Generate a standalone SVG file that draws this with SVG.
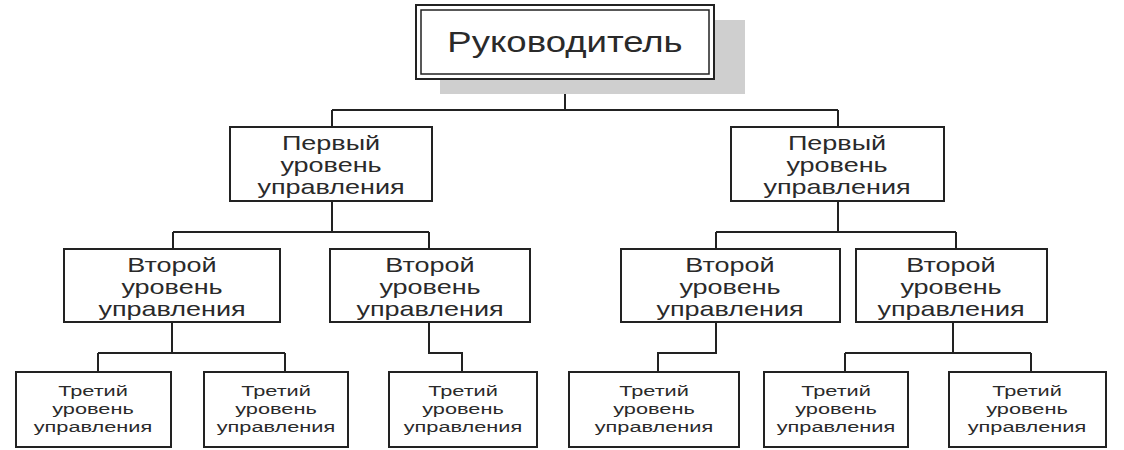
<svg xmlns="http://www.w3.org/2000/svg" width="1124" height="450" viewBox="0 0 1124 450">
<style>
.b{fill:#fff;stroke:#222;stroke-width:2}
.t{font-family:"Liberation Sans",Arial,sans-serif;fill:#2a2a2a;text-anchor:middle}
.m{font-size:20px}
.s{font-size:15px}
#connectors path{fill:none;stroke:#222;stroke-width:2}
</style>
<rect width="1124" height="450" fill="#fff"/>
<g id="connectors">
<path d="M565 79V110M332 110H838M332 110V127M838 110V127"/>
<path d="M332 201V232M173 232H429M173 232V249M429 232V249"/>
<path d="M838 201V232M716 232H956M716 232V249M956 232V249"/>
<path d="M172 322V353M98 353H285M98 353V372M285 353V372"/>
<path d="M429 322V353H462V372"/>
<path d="M716 322V353H658V372"/>
<path d="M953 322V353M845 353H1031M845 353V372M1031 353V372"/>
</g>
<g id="root">
<rect x="440" y="20" width="305" height="74" fill="#cfcfcf"/>
<rect class="b" x="416" y="5" width="298" height="74"/>
<rect x="421" y="10" width="288" height="64" fill="none" stroke="#222" stroke-width="1.5"/>
<text class="t" transform="translate(565,0) scale(1.26,1)" x="0" y="52" font-size="29">Руководитель</text>
</g>
<g id="l1a"><rect class="b" x="230" y="127" width="202" height="74"/>
<text class="t m" transform="translate(331,0) scale(1.35,1)" x="0" y="150">Первый<tspan x="0" dy="22">уровень</tspan><tspan x="0" dy="22">управления</tspan></text></g>
<g id="l1b"><rect class="b" x="731" y="127" width="213" height="74"/>
<text class="t m" transform="translate(837,0) scale(1.35,1)" x="0" y="150">Первый<tspan x="0" dy="22">уровень</tspan><tspan x="0" dy="22">управления</tspan></text></g>
<g id="l2a"><rect class="b" x="64" y="249" width="216" height="73"/>
<text class="t m" transform="translate(172,0) scale(1.35,1)" x="0" y="272">Второй<tspan x="0" dy="22">уровень</tspan><tspan x="0" dy="22">управления</tspan></text></g>
<g id="l2b"><rect class="b" x="330" y="249" width="200" height="73"/>
<text class="t m" transform="translate(430,0) scale(1.35,1)" x="0" y="272">Второй<tspan x="0" dy="22">уровень</tspan><tspan x="0" dy="22">управления</tspan></text></g>
<g id="l2c"><rect class="b" x="621" y="249" width="219" height="73"/>
<text class="t m" transform="translate(730,0) scale(1.35,1)" x="0" y="272">Второй<tspan x="0" dy="22">уровень</tspan><tspan x="0" dy="22">управления</tspan></text></g>
<g id="l2d"><rect class="b" x="856" y="249" width="191" height="73"/>
<text class="t m" transform="translate(951,0) scale(1.35,1)" x="0" y="272">Второй<tspan x="0" dy="22">уровень</tspan><tspan x="0" dy="22">управления</tspan></text></g>
<g id="l3a"><rect class="b" x="16" y="372" width="155" height="75"/>
<text class="t s" transform="translate(93,0) scale(1.45,1)" x="0" y="396">Третий<tspan x="0" dy="18">уровень</tspan><tspan x="0" dy="18">управления</tspan></text></g>
<g id="l3b"><rect class="b" x="204" y="372" width="144" height="75"/>
<text class="t s" transform="translate(276,0) scale(1.45,1)" x="0" y="396">Третий<tspan x="0" dy="18">уровень</tspan><tspan x="0" dy="18">управления</tspan></text></g>
<g id="l3c"><rect class="b" x="389" y="372" width="148" height="75"/>
<text class="t s" transform="translate(463,0) scale(1.45,1)" x="0" y="396">Третий<tspan x="0" dy="18">уровень</tspan><tspan x="0" dy="18">управления</tspan></text></g>
<g id="l3d"><rect class="b" x="569" y="372" width="170" height="75"/>
<text class="t s" transform="translate(654,0) scale(1.45,1)" x="0" y="396">Третий<tspan x="0" dy="18">уровень</tspan><tspan x="0" dy="18">управления</tspan></text></g>
<g id="l3e"><rect class="b" x="764" y="372" width="144" height="75"/>
<text class="t s" transform="translate(836,0) scale(1.45,1)" x="0" y="396">Третий<tspan x="0" dy="18">уровень</tspan><tspan x="0" dy="18">управления</tspan></text></g>
<g id="l3f"><rect class="b" x="949" y="372" width="157" height="75"/>
<text class="t s" transform="translate(1027,0) scale(1.45,1)" x="0" y="396">Третий<tspan x="0" dy="18">уровень</tspan><tspan x="0" dy="18">управления</tspan></text></g>
</svg>
